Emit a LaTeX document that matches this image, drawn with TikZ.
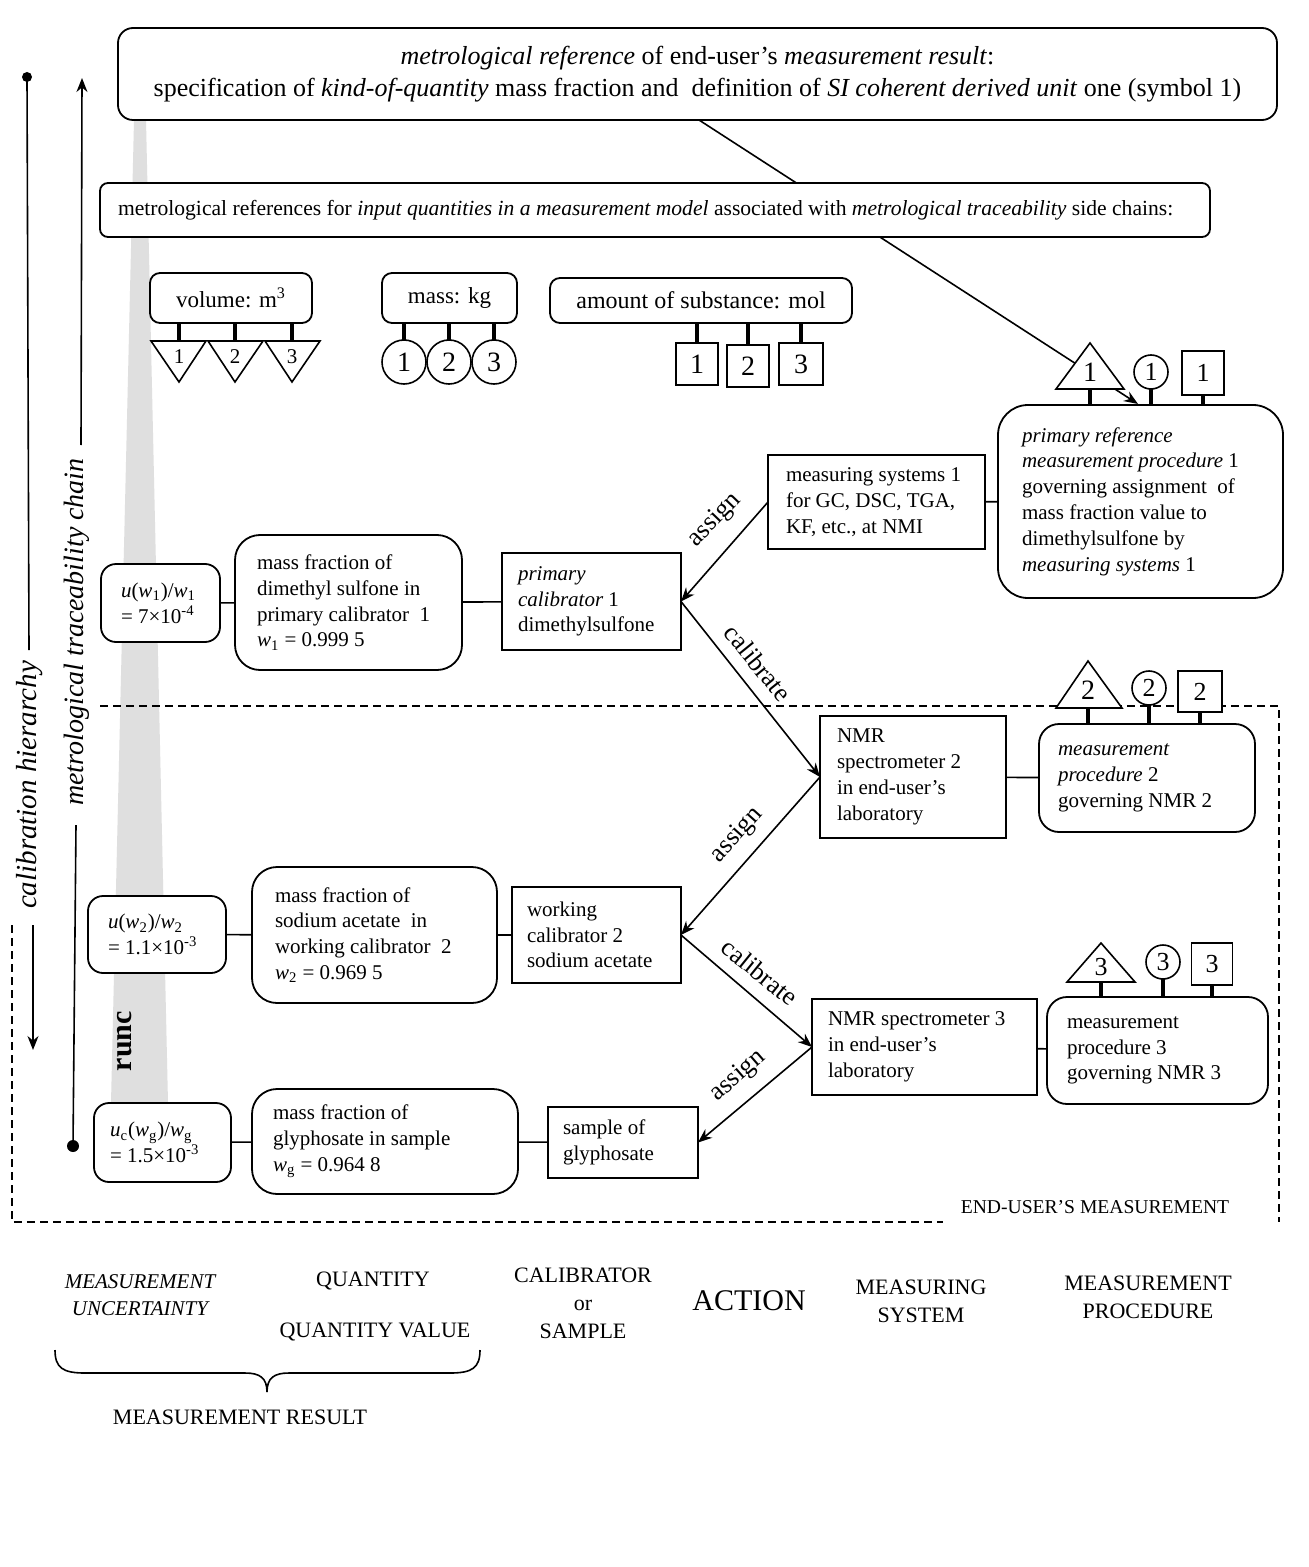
\documentclass[tikz,border=0pt]{standalone}
\usepackage{fontspec}
\setmainfont{Liberation Serif}
\usetikzlibrary{arrows.meta,calc}
\begin{document}
\begin{tikzpicture}[x=0.5pt,y=-0.5pt,
  every node/.style={inner sep=0pt, outer sep=0pt},
  box/.style={draw, line width=0.9pt, fill=white, anchor=north west},
  rbox/.style={box, rounded corners=#1},
  txt/.style={align=left, anchor=west, font=\fontsize{10.5}{12.9}\selectfont},
  conn/.style={line width=0.8pt},
  arr/.style={line width=0.8pt, -{Stealth[length=7pt,width=5.5pt]}},
  lbl/.style={font=\fontsize{13}{15}\selectfont},
  tick/.style={line width=2pt},
  sym/.style={draw, line width=0.8pt, fill=white},
  leg/.style={font=\fontsize{11}{13}\selectfont, align=center},
  frame/.style={line width=0.6pt, dash pattern=on 4pt off 2.5pt},
]
\fill[white] (0,0) rectangle (1309,1567);
\useasboundingbox (0,0) rectangle (1309,1567);

% grey wedge
\fill[gray!25] (134,120) -- (146,120) -- (168,1103) -- (111,1103) -- cycle;
\node[rotate=90, font=\bfseries\fontsize{15}{17}\selectfont] (runc) at (125,1041) {runc};

% dashed frame of the end-user's measurement
\draw[frame] (100,706) -- (1279,706) -- (1279,1222);
\draw[frame] (12,925) -- (12,1222) -- (943,1222);
\node[font=\fontsize{9.8}{11}\selectfont] (enduser) at (1095,1207) {END-USER’S MEASUREMENT};

% left side: calibration hierarchy and traceability chain
\node[circle, fill, minimum size=5pt] (dotA) at (27,77) {};
\coordinate (calEnd) at (29,650);
\draw[conn] (dotA.center) -- (calEnd);
\node[rotate=90, font=\itshape\fontsize{14.5}{16}\selectfont] (tcal) at (30,785) {calibration hierarchy};
\coordinate (calA) at (33,925);
\coordinate (calB) at (33,1050);
\draw[arr] (calA) -- (calB);

\coordinate (trA) at (81,445);
\coordinate (trB) at (82,78);
\draw[arr] (trA) -- (trB);
\node[rotate=90, font=\itshape\fontsize{14}{16}\selectfont] (ttr) at (77,632) {metrological traceability chain};
\node[circle, fill, minimum size=6pt] (dotB) at (73,1146) {};
\coordinate (trC) at (76,825);
\draw[conn] (trC) -- (dotB.center);

% top boxes
\node[rbox=7.5pt, minimum width=579.5pt, minimum height=46pt, align=center,
      font=\fontsize{13}{16}\selectfont] (btop) at (118,28)
  {\textit{metrological reference} of end-user’s \textit{measurement result}:\\
   specification of \textit{kind-of-quantity} mass fraction and\ \ definition of \textit{SI coherent derived unit} one (symbol 1)};
\coordinate (lnA) at (699,120);
\coordinate (lnB) at (1138,404);
\draw[arr] (lnA) -- (lnB);
\node[rbox=4pt, minimum width=555pt, minimum height=27pt] (brefs) at (100,183) {};
\node[txt, font=\fontsize{10.8}{12}\selectfont] (trefs) at ([xshift=9pt]brefs.west)
  {metrological references for \textit{input quantities in a measurement model} associated with \textit{metrological traceability} side chains:};

% side chains
\node[rbox=5pt, minimum width=81pt, minimum height=25pt, font=\fontsize{11.5}{13}\selectfont] (bvol) at (150,273) {volume: m\textsuperscript{3}};
\node[rbox=5pt, minimum width=67.5pt, minimum height=25pt, font=\fontsize{11.5}{13}\selectfont] (bmass) at (382,273) {mass: kg};
\node[rbox=5pt, minimum width=151pt, minimum height=22.5pt, font=\fontsize{12}{13}\selectfont] (bamt) at (550,278) {amount of substance: mol};

\draw[sym] (151,341) -- (206,341) -- (179,382) -- cycle;
\draw[sym] (208,341) -- (263,341) -- (235,382) -- cycle;
\draw[sym] (265,341) -- (320,341) -- (292,382) -- cycle;
\node[font=\fontsize{10.5}{11}\selectfont] (v1) at (179,357) {1};
\node[font=\fontsize{10.5}{11}\selectfont] (v2) at (235,357) {2};
\node[font=\fontsize{10.5}{11}\selectfont] (v3) at (292,357) {3};
\draw[tick] (bvol.south -| v1) -- (179,341);
\draw[tick] (bvol.south -| v2) -- (235,341);
\draw[tick] (bvol.south -| v3) -- (292,341);

\node[sym, circle, minimum size=22pt, font=\fontsize{14}{16}\selectfont] (m1) at (404,362) {1};
\node[sym, circle, minimum size=22pt, font=\fontsize{14}{16}\selectfont] (m2) at (449,362) {2};
\node[sym, circle, minimum size=22pt, font=\fontsize{14}{16}\selectfont] (m3) at (494,362) {3};
\draw[tick] (bmass.south -| m1) -- (m1.north);
\draw[tick] (bmass.south -| m2) -- (m2.north);
\draw[tick] (bmass.south -| m3) -- (m3.north);

\node[sym, minimum width=21pt, minimum height=21pt, font=\fontsize{14}{16}\selectfont] (a1) at (697,364) {1};
\node[sym, minimum width=21pt, minimum height=21pt, font=\fontsize{14}{16}\selectfont] (a2) at (748,366) {2};
\node[sym, minimum width=22pt, minimum height=21pt, font=\fontsize{14}{16}\selectfont] (a3) at (801,364) {3};
\draw[tick] (bamt.south -| a1) -- (a1.north);
\draw[tick] (bamt.south -| a2) -- (a2.north);
\draw[tick] (bamt.south -| a3) -- (a3.north);

% level 1
\node[rbox=15pt, minimum width=142.5pt, minimum height=96.5pt] (bproc1) at (998,405) {};
\node[txt] (tproc1) at ([xshift=12pt]bproc1.west)
  {\textit{primary reference}\\ \textit{measurement procedure} 1\\ governing assignment\ \ of\\ mass fraction value to\\ dimethylsulfone by\\ \textit{measuring systems} 1};
\draw[sym] (1090,343) -- (1124,389) -- (1056,389) -- cycle;
\node[font=\fontsize{14}{16}\selectfont] (p1t) at (1090,372) {1};
\node[sym, circle, minimum size=17pt, font=\fontsize{13}{15}\selectfont] (p1c) at (1151,372) {1};
\node[sym, minimum width=21pt, minimum height=22pt, font=\fontsize{13}{15}\selectfont] (p1s) at (1203,373) {1};
\draw[tick] (p1t |- 0,389) -- (bproc1.north -| p1t);
\draw[tick] (p1c.south) -- (bproc1.north -| p1c);
\draw[tick] (p1s.south) -- (bproc1.north -| p1s);

\node[box, minimum width=108.5pt, minimum height=47pt] (bms1) at (768,455) {};
\node[txt] (tms1) at ([xshift=9pt]bms1.west) {measuring systems 1\\ for GC, DSC, TGA,\\ KF, etc., at NMI};
\draw[conn] (bms1) -- (bproc1);

\node[box, minimum width=89.5pt, minimum height=48.5pt] (bpc1) at (502,553) {};
\node[txt] (tpc1) at ([xshift=8pt]bpc1.west) {\textit{primary}\\ \textit{calibrator} 1\\ dimethylsulfone};
\node[rbox=12.5pt, minimum width=113.5pt, minimum height=67.5pt] (bmf1) at (235,535) {};
\node[txt] (tmf1) at ([xshift=11pt]bmf1.west) {mass fraction of\\ dimethyl sulfone in\\ primary calibrator\ \ 1\\ \textit{w}\textsubscript{1} = 0.999 5};
\node[rbox=7.5pt, minimum width=59.5pt, minimum height=39pt] (bu1) at (101,564) {};
\node[txt] (tu1) at ([xshift=10pt]bu1.west) {\textit{u}(\textit{w}\textsubscript{1})/\textit{w}\textsubscript{1}\\ = 7×10\textsuperscript{-4}};
\draw[conn] (bu1) -- (bmf1);
\draw[conn] (bmf1) -- (bpc1);

% level 2
\node[box, minimum width=93pt, minimum height=61pt] (bnmr2) at (820,716) {};
\node[txt] (tnmr2) at ([xshift=8.5pt]bnmr2.west) {NMR\\ spectrometer 2\\ in end-user’s\\ laboratory};
\node[rbox=10pt, minimum width=108pt, minimum height=54pt] (bproc2) at (1039,724) {};
\node[txt] (tproc2) at ([xshift=9.5pt]bproc2.west) {\textit{measurement}\\ \textit{procedure} 2\\ governing NMR 2};
\draw[conn] (bnmr2) -- (bproc2);
\draw[sym] (1088,661) -- (1122,708) -- (1056,708) -- cycle;
\node[font=\fontsize{14}{16}\selectfont] (p2t) at (1088,690) {2};
\node[sym, circle, minimum size=17pt, font=\fontsize{13}{15}\selectfont] (p2c) at (1149,688) {2};
\node[sym, minimum width=22pt, minimum height=20.5pt, font=\fontsize{13}{15}\selectfont] (p2s) at (1200,691.5) {2};
\draw[tick] (p2t |- 0,708) -- (bproc2.north -| p2t);
\draw[tick] (p2c.south) -- (bproc2.north -| p2c);
\draw[tick] (p2s.south) -- (bproc2.north -| p2s);

\node[box, minimum width=84.5pt, minimum height=48pt] (bwc2) at (512,887) {};
\node[txt] (twc2) at ([xshift=7.5pt]bwc2.west) {working\\ calibrator 2\\ sodium acetate};
\node[rbox=12.5pt, minimum width=122.5pt, minimum height=68pt] (bmf2) at (252,867) {};
\node[txt] (tmf2) at ([xshift=11.5pt]bmf2.west) {mass fraction of\\ sodium acetate\ \ in\\ working calibrator\ \ 2\\ \textit{w}\textsubscript{2} = 0.969 5};
\node[rbox=7.5pt, minimum width=69pt, minimum height=38.5pt] (bu2) at (88,896) {};
\node[txt] (tu2) at ([xshift=10pt]bu2.west) {\textit{u}(\textit{w}\textsubscript{2})/\textit{w}\textsubscript{2}\\ = 1.1×10\textsuperscript{-3}};
\draw[conn] (bu2) -- (bmf2);
\draw[conn] (bmf2) -- (bwc2);

% level 3
\node[box, minimum width=112.5pt, minimum height=48pt] (bnmr3) at (812,999) {};
\node[txt] (tnmr3) at ([xshift=8pt]bnmr3.west) {NMR spectrometer 3\\ in end-user’s\\ laboratory};
\node[rbox=10pt, minimum width=110.5pt, minimum height=53.5pt] (bproc3) at (1047,997) {};
\node[txt] (tproc3) at ([xshift=10pt]bproc3.west) {measurement\\ procedure 3\\ governing NMR 3};
\draw[conn] (bnmr3) -- (bproc3);
\draw[sym] (1101,943) -- (1135,982) -- (1067,982) -- cycle;
\node[font=\fontsize{13}{15}\selectfont] (p3t) at (1101,967) {3};
\node[sym, circle, minimum size=17pt, font=\fontsize{13}{15}\selectfont] (p3c) at (1163,962) {3};
\node[sym, minimum width=20.5pt, minimum height=21pt, font=\fontsize{13}{15}\selectfont] (p3s) at (1212,964) {3};
\draw[tick] (p3t |- 0,982) -- (bproc3.north -| p3t);
\draw[tick] (p3c.south) -- (bproc3.north -| p3c);
\draw[tick] (p3s.south) -- (bproc3.north -| p3s);

\node[box, minimum width=75pt, minimum height=35.5pt] (bsamp) at (548,1107) {};
\node[txt] (tsamp) at ([xshift=7.5pt]bsamp.west) {sample of\\ glyphosate};
\node[rbox=12.5pt, minimum width=133pt, minimum height=52.5pt] (bmf3) at (252,1089) {};
\node[txt] (tmf3) at ([xshift=10.5pt]bmf3.west) {mass fraction of\\ glyphosate in sample\\ \textit{w}\textsubscript{g} = 0.964 8};
\node[rbox=7.5pt, minimum width=68.5pt, minimum height=39.5pt] (bu3) at (94,1103) {};
\node[txt] (tu3) at ([xshift=8pt]bu3.west) {\textit{u}\textsubscript{c}(\textit{w}\textsubscript{g})/\textit{w}\textsubscript{g}\\ = 1.5×10\textsuperscript{-3}};
\draw[conn] (bu3) -- (bmf3);
\draw[conn] (bmf3) -- (bsamp);

% actions
\draw[arr] (bms1.west) -- (bpc1.east);
\draw[arr] (bpc1.east) -- (bnmr2.west);
\draw[arr] (bnmr2.west) -- (bwc2.east);
\draw[arr] (bwc2.east) -- (bnmr3.west);
\draw[arr] (bnmr3.west) -- (bsamp.east);
\node[lbl, rotate=46] (las1) at (715,520) {assign};
\node[lbl, rotate=-51] (lca1) at (758,663) {calibrate};
\node[lbl, rotate=48] (las2) at (737,835) {assign};
\node[lbl, rotate=-39] (lca2) at (760,972) {calibrate};
\node[lbl, rotate=41] (las3) at (738,1076) {assign};

% legend
\node[leg, font=\itshape\fontsize{10.5}{13.5}\selectfont] (lg1) at (140,1295) {MEASUREMENT\\ UNCERTAINTY};
\node[leg] (lg2) at (373,1281) {QUANTITY};
\node[leg] (lg3) at (375,1332) {QUANTITY VALUE};
\node[leg, font=\fontsize{11}{14}\selectfont] (lg4) at (583,1303) {CALIBRATOR\\ or\\ SAMPLE};
\node[leg, font=\fontsize{15}{17}\selectfont] (lg5) at (749,1301) {ACTION};
\node[leg, font=\fontsize{11}{14}\selectfont] (lg6) at (921,1301) {MEASURING\\ SYSTEM};
\node[leg, font=\fontsize{11}{14}\selectfont] (lg7) at (1148,1297) {MEASUREMENT\\ PROCEDURE};
\node[leg] (lg8) at (240,1417) {MEASUREMENT RESULT};
\coordinate (brL) at (55,1350);
\coordinate (brR) at (480,1350);
\coordinate (brT) at (267,1392);
\draw[line width=0.8pt] (brL) .. controls (55,1368) and (63,1373) .. (85,1373) -- (245,1373)
   .. controls (260,1373) and (267,1378) .. (brT);
\draw[line width=0.8pt] (brR) .. controls (480,1368) and (472,1373) .. (450,1373) -- (289,1373)
   .. controls (274,1373) and (267,1378) .. (brT);
\end{tikzpicture}
\end{document}
